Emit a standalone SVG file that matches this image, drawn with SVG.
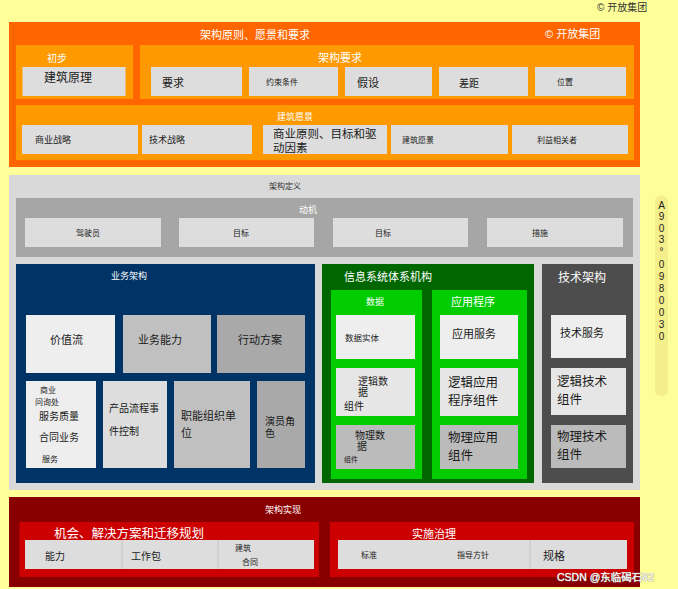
<svg xmlns="http://www.w3.org/2000/svg" width="678" height="589" viewBox="0 0 678 589">
<style>
text{font-family:"Liberation Sans","Noto Sans CJK SC",sans-serif;dominant-baseline:central}
.w{fill:#ffffff}
.k{fill:#1a1a1a}
.g1{fill:#dddddd}
.l{fill:#eeeeee}
.m{fill:#c0c0c0}
.d{fill:#a9a9a9}
.e{fill:#e6e6e6}
.p{fill:#bbbbbb}
</style>
<rect x="0" y="0" width="678" height="589" fill="#ffff99"/>
<text x="597" y="7.5" font-size="10" fill="#333333">© 开放集团</text>
<rect x="655" y="196" width="13" height="200" rx="5" fill="#f4ef8a"/>
<g id="code" font-size="10" fill="#222222" text-anchor="middle">
<text x="661.5" y="205">A</text><text x="661.5" y="216.5">9</text><text x="661.5" y="228">0</text><text x="661.5" y="239.5">3</text><text x="661.5" y="251">°</text>
<text x="661.5" y="264">0</text><text x="661.5" y="276">9</text><text x="661.5" y="288">8</text><text x="661.5" y="300">0</text><text x="661.5" y="312">0</text><text x="661.5" y="324">3</text><text x="661.5" y="336">0</text>
</g>

<g id="principles">
<rect x="9" y="22" width="631" height="145" fill="#ff6600"/>
<text x="255" y="35" font-size="11" class="w" text-anchor="middle">架构原则、愿景和要求</text>
<text x="545" y="34" font-size="11" class="w">© 开放集团</text>
</g>
<g id="prelim">
<rect x="16" y="45" width="117" height="54" fill="#ff9900"/>
<text x="57" y="58" font-size="10" class="w" text-anchor="middle">初步</text>
<rect x="22.5" y="67" width="103" height="29" class="g1"/>
<text x="44" y="78" font-size="12" class="k">建筑原理</text>
</g>
<g id="req">
<rect x="140" y="45" width="494" height="54" fill="#ff9900"/>
<text x="340" y="58" font-size="11" class="w" text-anchor="middle">架构要求</text>
<rect x="151" y="67" width="91" height="29" class="g1"/><text x="162" y="83" font-size="11" class="k">要求</text>
<rect x="249" y="67" width="89" height="29" class="g1"/><text x="266" y="82" font-size="8" class="k">约束条件</text>
<rect x="345" y="67" width="87" height="29" class="g1"/><text x="357" y="83" font-size="11" class="k">假设</text>
<rect x="439" y="67" width="89" height="29" class="g1"/><text x="459" y="83" font-size="10" class="k">差距</text>
<rect x="535" y="67" width="91" height="29" class="g1"/><text x="557" y="82" font-size="8" class="k">位置</text>
</g>
<g id="vision">
<rect x="16" y="105" width="618" height="55" fill="#ff9900"/>
<text x="295" y="117" font-size="9" class="w" text-anchor="middle">建筑愿景</text>
<rect x="22" y="125" width="116" height="29" class="g1"/><text x="35" y="140" font-size="9" class="k">商业战略</text>
<rect x="142" y="125" width="110" height="29" class="g1"/><text x="149" y="140" font-size="9" class="k">技术战略</text>
<rect x="263" y="125" width="124" height="29" class="g1"/><text x="273" y="134" font-size="11.5" class="k">商业原则、目标和驱</text><text x="273" y="148" font-size="11.5" class="k">动因素</text>
<rect x="391" y="125" width="117" height="29" class="g1"/><text x="402" y="140" font-size="8" class="k">建筑愿景</text>
<rect x="512" y="125" width="116" height="29" class="g1"/><text x="537" y="140" font-size="8" class="k">利益相关者</text>
</g>

<g id="definition">
<rect x="9" y="175" width="631" height="315" fill="#d9d9d9"/>
<text x="285" y="186" font-size="8" fill="#333333" text-anchor="middle">架构定义</text>
</g>
<g id="motivation">
<rect x="16" y="198" width="617" height="59" fill="#a6a6a6"/>
<text x="308" y="210" font-size="9" class="w" text-anchor="middle">动机</text>
<rect x="25" y="218" width="136" height="29" class="g1"/><text x="88" y="233" font-size="8" class="k" text-anchor="middle">驾驶员</text>
<rect x="179" y="218" width="135" height="29" class="g1"/><text x="241" y="233" font-size="8" class="k" text-anchor="middle">目标</text>
<rect x="333" y="218" width="135" height="29" class="g1"/><text x="383" y="233" font-size="8" class="k" text-anchor="middle">目标</text>
<rect x="487" y="218" width="136" height="29" class="g1"/><text x="540" y="233" font-size="8" class="k" text-anchor="middle">措施</text>
</g>

<g id="business">
<rect x="16" y="264" width="299" height="219" fill="#003366"/>
<text x="111" y="276" font-size="9" class="w">业务架构</text>
<rect x="26" y="315" width="89" height="58" class="l"/><text x="50" y="340" font-size="11" class="k">价值流</text>
<rect x="123" y="315" width="88" height="58" class="m"/><text x="138" y="340" font-size="11" class="k">业务能力</text>
<rect x="217" y="315" width="88" height="58" class="d"/><text x="238" y="340" font-size="11" class="k">行动方案</text>
<rect x="26" y="381" width="70" height="87" class="l"/>
<text x="40" y="390" font-size="8" class="k">商业</text>
<text x="35" y="402" font-size="8" class="k">问询处</text>
<text x="39" y="416" font-size="10" class="k">服务质量</text>
<text x="39" y="437" font-size="10" class="k">合同业务</text>
<text x="42" y="459" font-size="8" class="k">服务</text>
<rect x="103" y="381" width="64" height="87" class="g1"/>
<text x="109" y="408" font-size="10" class="k">产品流程事</text>
<text x="109" y="431" font-size="10" class="k">件控制</text>
<rect x="174" y="381" width="76" height="87" class="m"/>
<text x="181" y="416" font-size="11" class="k">职能组织单</text>
<text x="181" y="433" font-size="11" class="k">位</text>
<rect x="257" y="381" width="48" height="87" class="d"/>
<text x="265" y="421" font-size="10" class="k">演员角</text>
<text x="265" y="433" font-size="10" class="k">色</text>
</g>

<g id="infosys">
<rect x="322" y="264" width="212" height="219" fill="#006600"/>
<text x="344" y="277" font-size="11" class="w">信息系统体系机构</text>
</g>
<g id="data">
<rect x="331" y="290" width="91" height="189" fill="#00cc00"/>
<text x="375" y="302" font-size="9" class="w" text-anchor="middle">数据</text>
<rect x="336" y="315" width="79" height="44" class="l"/><text x="345" y="338" font-size="8.5" class="k">数据实体</text>
<rect x="336" y="368" width="79" height="48" class="e"/>
<text x="358" y="381" font-size="10" class="k">逻辑数</text>
<text x="358" y="392" font-size="10" class="k">据</text>
<text x="344" y="406" font-size="10" class="k">组件</text>
<rect x="336" y="425" width="79" height="44" class="p"/>
<text x="355" y="435" font-size="10" class="k">物理数</text>
<text x="357" y="446" font-size="10" class="k">据</text>
<text x="344" y="459" font-size="7" class="k">组件</text>
</g>
<g id="apps">
<rect x="432" y="290" width="95" height="189" fill="#00cc00"/>
<text x="451" y="302" font-size="11" class="w">应用程序</text>
<rect x="440" y="315" width="78" height="44" class="l"/><text x="452" y="334" font-size="11" class="k">应用服务</text>
<rect x="440" y="368" width="78" height="48" class="e"/>
<text x="448" y="383" font-size="12.5" class="k">逻辑应用</text>
<text x="448" y="401" font-size="12.5" class="k">程序组件</text>
<rect x="440" y="425" width="78" height="44" class="p"/>
<text x="448" y="438" font-size="12.5" class="k">物理应用</text>
<text x="448" y="456" font-size="12.5" class="k">组件</text>
</g>
<g id="tech">
<rect x="542" y="264" width="91" height="219" fill="#4d4d4d"/>
<text x="558" y="278" font-size="12" class="w">技术架构</text>
<rect x="551" y="315" width="75" height="43" class="l"/><text x="560" y="333" font-size="11" class="k">技术服务</text>
<rect x="551" y="368" width="75" height="47" class="e"/>
<text x="557" y="382" font-size="12.5" class="k">逻辑技术</text>
<text x="557" y="400" font-size="12.5" class="k">组件</text>
<rect x="551" y="425" width="75" height="43" class="p"/>
<text x="557" y="437" font-size="12.5" class="k">物理技术</text>
<text x="557" y="455" font-size="12.5" class="k">组件</text>
</g>

<g id="realization">
<rect x="9" y="497" width="631" height="90" fill="#880000"/>
<text x="283" y="510" font-size="9" class="w" text-anchor="middle">架构实现</text>
</g>
<g id="opportunities">
<rect x="19.5" y="522" width="299.5" height="55" fill="#cc0000"/>
<text x="54" y="534" font-size="12.5" class="w">机会、解决方案和迁移规划</text>
<rect x="25" y="540" width="289" height="29" class="g1"/>
<line x1="122" y1="540" x2="122" y2="569" stroke="#c4c4c4"/>
<line x1="218" y1="540" x2="218" y2="569" stroke="#c4c4c4"/>
<text x="45" y="556" font-size="10" class="k">能力</text>
<text x="131" y="556" font-size="10" class="k">工作包</text>
<text x="235" y="548" font-size="8" class="k">建筑</text>
<text x="242" y="562" font-size="8" class="k">合同</text>
</g>
<g id="governance">
<rect x="330" y="522" width="304" height="55" fill="#cc0000"/>
<text x="412" y="534" font-size="11" class="w">实施治理</text>
<rect x="338" y="540" width="289" height="29" class="g1"/>
<line x1="530" y1="540" x2="530" y2="569" stroke="#c4c4c4"/>
<text x="361" y="555" font-size="8" class="k">标准</text>
<text x="457" y="555" font-size="8" class="k">指导方针</text>
<text x="543" y="556" font-size="11" class="k">规格</text>
</g>
<text x="557" y="577" font-size="10.5" fill="#ffffff" stroke="#9a9a9a" stroke-width="0.7" paint-order="stroke">CSDN @东临碣石82</text>
</svg>
